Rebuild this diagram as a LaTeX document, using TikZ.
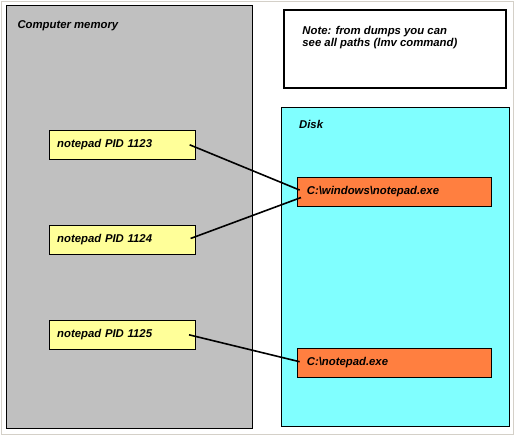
\documentclass[tikz,border=0pt]{standalone}
\usepackage{fontspec}
\setmainfont{Liberation Sans}
\usetikzlibrary{positioning}

\definecolor{memgray}{HTML}{C0C0C0}
\definecolor{diskcyan}{HTML}{80FFFF}
\definecolor{procyellow}{HTML}{FFFF99}
\definecolor{fileorange}{HTML}{FF7F40}
\definecolor{framegray}{HTML}{D4D0C8}

\tikzset{
  region/.style={draw, line width=0.75pt, inner sep=0pt},
  tag/.style={inner sep=0pt, font=\fontsize{8.5}{9.5}\selectfont\bfseries\itshape},
  procbox/.style={draw, line width=0.75pt, fill=procyellow, minimum height=21.75pt,
    text width=98pt, inner xsep=6pt, inner ysep=0pt, align=left,
    font=\fontsize{8.5}{9.5}\selectfont\bfseries\itshape},
  filebox/.style={draw, line width=0.75pt, fill=fileorange, minimum height=21.75pt,
    text width=131.5pt, inner xsep=7pt, inner ysep=0pt, align=left,
    font=\fontsize{8.5}{9.5}\selectfont\bfseries\itshape},
  link/.style={line width=1.2pt}
}

\begin{document}
\begin{tikzpicture}[x=0.75pt,y=-0.75pt,node distance=48.75pt]
    \useasboundingbox (0,0) rectangle (517,436);
    \draw[framegray, line width=0.75pt] (1,1) rectangle (513.5,434.5);

    % regions
    \node (memory) [region, fill=memgray, minimum width=184.5pt, minimum height=317.25pt] at (129,216.5) {};
    \node (note) [region, fill=white, line width=1.5pt, minimum width=167pt, minimum height=58.5pt] at (395,49.2) {};
    \node (disk) [region, fill=diskcyan, minimum width=171pt, minimum height=239.5pt] at (395.5,267) {};

    \node (memlabel) [tag, below right=11.8pt and 8.8pt of memory.north west] {Computer memory};
    \node (notelabel) [tag, align=left, below right=12.3pt and 14.6pt of note.north west] {Note: from dumps you can\\see all paths (lmv command)};
    \node (disklabel) [tag, below right=9.7pt and 13.4pt of disk.north west] {Disk};

    % processes
    \node (pid1) [procbox] at (122.5,144.8) {notepad PID 1123};
    \node (pid2) [procbox, below=of pid1] {notepad PID 1124};
    \node (pid3) [procbox, below=of pid2] {notepad PID 1125};

    % files
    \node (exe1) [filebox] at (394.5,191.8) {C:\textbackslash windows\textbackslash notepad.exe};
    \node (exe2) [filebox] at (394.5,362.8) {C:\textbackslash notepad.exe};

    \draw[link] ([xshift=-5pt]pid1.east) -- ([xshift=2pt,yshift=1.3pt]exe1.west);
    \draw[link] ([xshift=-4.3pt,yshift=1pt]pid2.east) -- ([xshift=3pt,yshift=-4.3pt]exe1.west);
    \draw[link] ([xshift=-5.5pt]pid3.east) -- ([xshift=2pt,yshift=0.8pt]exe2.west);
  \end{tikzpicture}
\end{document}
